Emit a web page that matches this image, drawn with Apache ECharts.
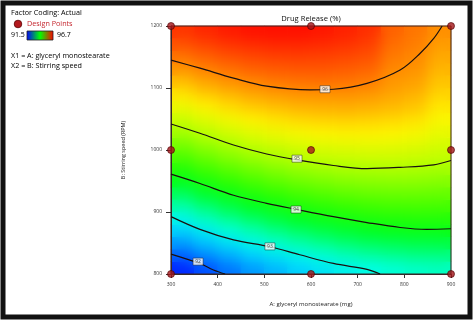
<!DOCTYPE html>
<html><head><meta charset="utf-8">
<script src="https://cdn.jsdelivr.net/npm/echarts@6/dist/echarts.min.js"></script>
<style>
html,body{margin:0;padding:0;background:#fff}
#wrap{position:relative;width:474px;height:321px}
.layer{position:absolute;left:0;top:0;width:474px;height:321px}
#blurClip{clip-path:inset(26px 23px 47px 171px)}
#blur{filter:blur(7px)}
</style>
</head><body>
<div id="wrap">
  <div id="base" class="layer"></div>
  <div id="blurClip" class="layer"><div id="blur" class="layer"></div></div>
  <div id="c" class="layer"></div>
</div>
<script>
// Cell centres of the response surface (A: glyceryl monostearate, B: stirring speed)
const glycerylCenters = [325, 375, 425, 475, 525, 575, 625, 675, 725, 775, 825, 875];
const speedCenters = [810, 830, 850, 870, 890, 910, 930, 950, 970, 990, 1010, 1030, 1050, 1070, 1090, 1110, 1130, 1150, 1170, 1190];
// Drug release (%), one column per glyceryl value, bottom (810 rpm) to top (1190 rpm)
const releaseByColumn = [
  [91.73, 92.08, 92.41, 92.74, 93.05, 93.35, 93.64, 93.92, 94.19, 94.45, 94.70, 94.94, 95.16, 95.38, 95.58, 95.77, 95.96, 96.13, 96.29, 96.44],
  [91.97, 92.31, 92.64, 92.95, 93.26, 93.55, 93.84, 94.11, 94.37, 94.62, 94.86, 95.09, 95.30, 95.51, 95.70, 95.89, 96.06, 96.22, 96.37, 96.51],
  [92.19, 92.52, 92.84, 93.15, 93.45, 93.73, 94.00, 94.27, 94.52, 94.76, 94.99, 95.21, 95.42, 95.62, 95.80, 95.98, 96.14, 96.30, 96.44, 96.57],
  [92.40, 92.72, 93.03, 93.32, 93.61, 93.89, 94.15, 94.41, 94.65, 94.89, 95.11, 95.32, 95.52, 95.71, 95.88, 96.05, 96.21, 96.35, 96.48, 96.61],
  [92.57, 92.89, 93.19, 93.48, 93.76, 94.02, 94.28, 94.53, 94.76, 94.99, 95.20, 95.40, 95.59, 95.77, 95.94, 96.10, 96.25, 96.38, 96.51, 96.62],
  [92.73, 93.04, 93.33, 93.61, 93.88, 94.14, 94.39, 94.63, 94.85, 95.07, 95.27, 95.46, 95.65, 95.82, 95.98, 96.13, 96.27, 96.39, 96.51, 96.62],
  [92.87, 93.16, 93.45, 93.72, 93.98, 94.23, 94.47, 94.70, 94.92, 95.13, 95.32, 95.51, 95.68, 95.84, 95.99, 96.14, 96.27, 96.38, 96.49, 96.59],
  [92.99, 93.27, 93.55, 93.81, 94.06, 94.31, 94.54, 94.76, 94.97, 95.16, 95.35, 95.53, 95.69, 95.85, 95.99, 96.12, 96.24, 96.35, 96.45, 96.54],
  [93.08, 93.36, 93.63, 93.88, 94.13, 94.36, 94.58, 94.79, 94.99, 95.18, 95.36, 95.53, 95.68, 95.83, 95.96, 96.09, 96.20, 96.30, 96.39, 96.47],
  [93.16, 93.42, 93.68, 93.93, 94.16, 94.39, 94.60, 94.80, 95.00, 95.18, 95.35, 95.51, 95.65, 95.79, 95.89, 95.96, 96.03, 96.10, 96.16, 96.22],
  [93.21, 93.47, 93.72, 93.96, 94.18, 94.40, 94.60, 94.80, 94.98, 95.15, 95.31, 95.46, 95.60, 95.73, 95.82, 95.91, 95.98, 96.03, 96.08, 96.12],
  [93.24, 93.49, 93.73, 93.96, 94.18, 94.39, 94.58, 94.77, 94.94, 95.11, 95.23, 95.36, 95.47, 95.57, 95.66, 95.74, 95.81, 95.87, 95.93, 96.00]
];
// Contour lines [glyceryl mg, stirring rpm]
const contour92 = [[300, 832], [334, 824], [362, 817], [391, 806.5], [416, 800]];
const contour93 = [[300, 892.5], [362, 872], [434, 855], [512, 844], [576, 831], [648, 817], [720, 807.5], [748, 800]];
const contour94 = [[300, 961], [362, 946], [434, 927], [505, 914], [570, 904], [648, 892.5], [720, 883], [791, 875], [848, 872], [900, 873]];
const contour95 = [[300, 1042], [362, 1027], [434, 1008], [505, 993.5], [570, 984], [648, 975], [720, 970], [791, 972], [863, 976], [900, 983]];
const contour96 = [[300, 1145], [362, 1132], [434, 1116], [505, 1103], [598, 1097], [648, 1098], [720, 1107.5], [791, 1129], [834, 1156], [863, 1180], [881, 1200]];
const contourLabels = [[358, 820, '92'], [512, 844.5, '93'], [568, 904, '94'], [570, 986, '95'], [630, 1098, '96']];
const designPoints = [[300, 800], [600, 800], [900, 800], [300, 1000], [600, 1000], [900, 1000], [300, 1200], [600, 1200], [900, 1200]];
const colorMin = 91.5, colorMax = 96.7;
// colour ramp, evenly spaced from colorMin to colorMax
const surfaceColors = ['#0000ff', '#0044ff', '#0088ff', '#00ccff', '#00ffe6', '#00ff80', '#00ff1a',
  '#35ff00', '#7bff00', '#c2ff00', '#fff500', '#ffa300', '#ff5200', '#ff0000'];

const FONT = 'Open Sans';
const heatData = [];
releaseByColumn.forEach((col, i) => col.forEach((v, j) => heatData.push([i, j, v])));

const G = { left: 171, top: 26, width: 280, height: 248 };

function heatOption() {
  return {
    animation: false,
    grid: [Object.assign({}, G)],
    visualMap: { type: 'continuous', show: false, min: colorMin, max: colorMax, seriesIndex: 0,
      inRange: { color: surfaceColors } },
    xAxis: [{ type: 'category', data: glycerylCenters.map(String), show: false }],
    yAxis: [{ type: 'category', data: speedCenters.map(String), show: false }],
    series: [{ type: 'heatmap', data: heatData, progressive: 0,
      itemStyle: { borderWidth: 0 }, emphasis: { disabled: true }, silent: true }]
  };
}
echarts.init(document.getElementById('base')).setOption(heatOption());
echarts.init(document.getElementById('blur')).setOption(heatOption());

const chart = echarts.init(document.getElementById('c'));
const contourSeries = [contour92, contour93, contour94, contour95, contour96].map(d => ({
  type: 'line', data: d, smooth: 0.35, showSymbol: false,
  lineStyle: { color: '#1a1010', width: 1.2 }, silent: true, z: 4, clip: true
}));

chart.setOption({
  animation: false,
  backgroundColor: 'transparent',
  textStyle: { fontFamily: FONT },
  title: { text: 'Drug Release (%)', left: 311, top: 15, padding: 0, textAlign: 'center',
    textStyle: { fontSize: 7.6, fontWeight: 'normal', color: '#111', fontFamily: FONT } },
  grid: [Object.assign({}, G)],
  xAxis: [
    { type: 'value', min: 300, max: 900, interval: 100,
      name: 'A: glyceryl monostearate (mg)', nameLocation: 'middle', nameGap: 27,
      nameTextStyle: { fontSize: 6, color: '#222', fontFamily: FONT },
      axisLine: { show: true, lineStyle: { color: '#333', width: 1 } },
      axisTick: { show: true, length: 4, lineStyle: { color: '#333' } },
      axisLabel: { fontSize: 5, color: '#333', margin: 8, fontFamily: FONT, formatter: v => String(v) },
      splitLine: { show: false } }
  ],
  yAxis: [
    { type: 'value', min: 800, max: 1200, interval: 100,
      name: 'B: Stirring speed (RPM)', nameLocation: 'middle', nameGap: 45,
      nameTextStyle: { fontSize: 5.5, color: '#222', fontFamily: FONT },
      axisLine: { show: true, lineStyle: { color: '#333', width: 1 } },
      axisTick: { show: true, length: 5, lineStyle: { color: '#333' } },
      axisLabel: { fontSize: 5, color: '#333', margin: 9, fontFamily: FONT, formatter: v => String(v) },
      splitLine: { show: false } }
  ],
  graphic: [
    { type: 'rect', z: 100, silent: true, shape: { x: 3, y: 3, width: 467, height: 314 },
      style: { fill: null, stroke: '#111', lineWidth: 5 } },
    { type: 'rect', z: 3, silent: true, shape: { x: G.left, y: G.top, width: G.width, height: G.height },
      style: { fill: null, stroke: '#3a2020', lineWidth: 1 } },
    { type: 'text', left: 11, top: 9, silent: true,
      style: { text: 'Factor Coding: Actual', fontSize: 7.2, fill: '#000', fontFamily: FONT } },
    { type: 'circle', silent: true, shape: { cx: 18, cy: 24, r: 3.8 },
      style: { fill: '#b3181d', stroke: '#5a0000', lineWidth: 0.8 } },
    { type: 'text', left: 27, top: 20, silent: true,
      style: { text: 'Design Points', fontSize: 7.2, fill: '#c4262e', fontFamily: FONT } },
    { type: 'text', left: 11, top: 31, silent: true,
      style: { text: String(colorMin), fontSize: 7, fill: '#000', fontFamily: FONT } },
    { type: 'rect', silent: true, shape: { x: 27, y: 31, width: 26, height: 9 },
      style: { stroke: '#222', lineWidth: 0.8,
        fill: new echarts.graphic.LinearGradient(0, 0, 1, 0, [
          { offset: 0, color: '#0000ff' }, { offset: 0.5, color: '#00ff00' }, { offset: 1, color: '#ff0000' }]) } },
    { type: 'text', left: 57, top: 31, silent: true,
      style: { text: String(colorMax), fontSize: 7, fill: '#000', fontFamily: FONT } },
    { type: 'text', left: 11, top: 52, silent: true,
      style: { text: 'X1 = A: glyceryl monostearate', fontSize: 7.2, fill: '#000', fontFamily: FONT } },
    { type: 'text', left: 11, top: 62, silent: true,
      style: { text: 'X2 = B: Stirring speed', fontSize: 7.2, fill: '#000', fontFamily: FONT } }
  ],
  series: contourSeries.concat([
    { type: 'scatter', symbol: 'rect', symbolSize: [10, 7],
      data: contourLabels.map(d => ({ value: [d[0], d[1]], name: d[2] })), silent: true, z: 6,
      itemStyle: { color: '#fff', borderColor: '#222', borderWidth: 0.6 },
      label: { show: true, position: 'inside', formatter: p => p.name, fontSize: 5, color: '#222', fontFamily: FONT } },
    { type: 'scatter', symbol: 'circle', symbolSize: 7,
      data: designPoints, silent: true, z: 10, clip: false,
      itemStyle: { color: '#a3151a', borderColor: '#4d0000', borderWidth: 0.8 } }
  ])
});
</script></body></html>
